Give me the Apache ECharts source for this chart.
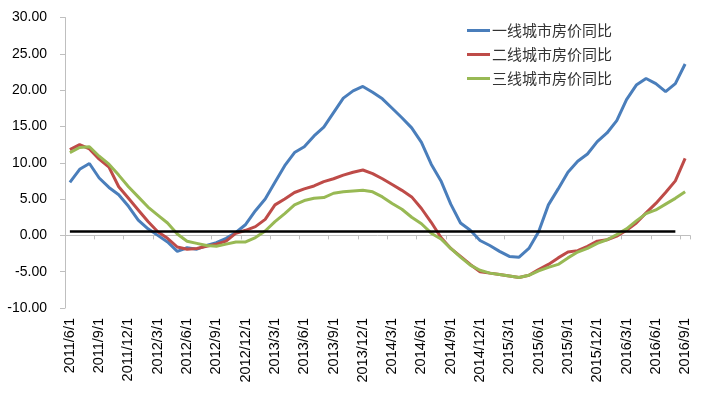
<!DOCTYPE html>
<html>
<head>
<meta charset="utf-8">
<script src="https://cdn.jsdelivr.net/npm/echarts@6/dist/echarts.min.js"></script>
<style>
html,body{margin:0;padding:0;background:#fff;}
#c{width:720px;height:397px;}
</style>
</head>
<body>
<div id="c"></div>
<script>
const months = [
 "2011/6/1","2011/7/1","2011/8/1","2011/9/1","2011/10/1","2011/11/1","2011/12/1",
 "2012/1/1","2012/2/1","2012/3/1","2012/4/1","2012/5/1","2012/6/1","2012/7/1","2012/8/1","2012/9/1","2012/10/1","2012/11/1","2012/12/1",
 "2013/1/1","2013/2/1","2013/3/1","2013/4/1","2013/5/1","2013/6/1","2013/7/1","2013/8/1","2013/9/1","2013/10/1","2013/11/1","2013/12/1",
 "2014/1/1","2014/2/1","2014/3/1","2014/4/1","2014/5/1","2014/6/1","2014/7/1","2014/8/1","2014/9/1","2014/10/1","2014/11/1","2014/12/1",
 "2015/1/1","2015/2/1","2015/3/1","2015/4/1","2015/5/1","2015/6/1","2015/7/1","2015/8/1","2015/9/1","2015/10/1","2015/11/1","2015/12/1",
 "2016/1/1","2016/2/1","2016/3/1","2016/4/1","2016/5/1","2016/6/1","2016/7/1","2016/8/1","2016/9/1"
];
const seriesNames = ["一线城市房价同比","二线城市房价同比","三线城市房价同比"];
const tier1 = [7.3,9.1,9.9,7.9,6.6,5.6,4.0,2.1,0.9,0.0,
 -0.9,-2.2,-1.7,-1.9,-1.4,-1.0,-0.4,0.4,1.5,3.4,
 5.0,7.3,9.6,11.4,12.2,13.7,14.9,16.9,18.9,19.9,
 20.5,19.7,18.8,17.5,16.2,14.8,12.8,9.8,7.5,4.3,
 1.7,0.7,-0.7,-1.4,-2.2,-2.9,-3.0,-1.8,0.5,4.2,
 6.4,8.7,10.2,11.2,12.9,14.1,15.8,18.7,20.7,21.6,
 20.9,19.8,20.9,23.6];
const tier2 = [11.8,12.5,11.9,10.5,9.4,6.7,5.1,3.5,1.9,0.5,
 -0.4,-1.6,-1.9,-1.8,-1.5,-1.2,-0.8,0.3,0.7,1.2,
 2.2,4.2,5.0,5.9,6.4,6.8,7.4,7.8,8.3,8.7,
 9.0,8.5,7.8,7.0,6.2,5.3,3.7,1.8,-0.3,-1.8,
 -2.9,-4.0,-5.0,-5.2,-5.4,-5.6,-5.8,-5.5,-4.7,-4.0,
 -3.1,-2.3,-2.1,-1.5,-0.8,-0.6,-0.1,0.7,1.7,3.1,
 4.4,5.9,7.5,10.6];
const tier3 = [11.4,12.1,12.2,10.9,9.8,8.3,6.7,5.3,3.9,2.8,
 1.7,0.2,-0.8,-1.1,-1.4,-1.5,-1.2,-0.9,-0.9,-0.3,
 0.6,1.9,3.0,4.2,4.8,5.1,5.2,5.8,6.0,6.1,
 6.2,6.0,5.3,4.4,3.6,2.5,1.6,0.3,-0.5,-1.8,
 -3.0,-4.1,-4.8,-5.2,-5.4,-5.6,-5.8,-5.5,-4.9,-4.4,
 -4.0,-3.1,-2.3,-1.8,-1.1,-0.6,0.1,0.9,2.0,3.0,
 3.5,4.3,5.1,6.0];
const refLevel = 0.55;
const refStart = "2011/6/1";
const refEnd = "2016/8/1";
const colors = ["#4A7EBB","#BE4B48","#98B954"];

const chart = echarts.init(document.getElementById('c'), null, {renderer:'canvas'});
const font = "'Liberation Sans', Arial, sans-serif";
function lineSeries(name, data, color){
  return {
    name: name, type:'line', data: data, symbol:'none', smooth:false,
    lineStyle:{color: color, width:3}, itemStyle:{color: color}, animation:false
  };
}
chart.setOption({
  animation:false,
  grid:{left:65, right:30, top:17.5, bottom:89, containLabel:false},
  legend:{
    data: seriesNames, orient:'vertical', left:462, top:18,
    itemWidth:23, itemHeight:14, itemGap:9,
    textStyle:{fontFamily:"'Noto Sans CJK SC', sans-serif", fontSize:15, color:'#333', padding:[0,0,0,-3]},
    icon:'path://M0,6 L23,6 L23,9 L0,9 Z'
  },
  xAxis:{
    type:'category', data: months, boundaryGap:true,
    axisLine:{lineStyle:{color:'#BFBFBF', width:1}},
    axisTick:{show:true, interval:2, length:4, lineStyle:{color:'#BFBFBF'}},
    axisLabel:{interval:2, rotate:90, margin:10, fontFamily:font, fontSize:14.5, color:'#000'}
  },
  yAxis:{
    type:'value', min:-10, max:30, interval:5,
    axisLine:{show:true, lineStyle:{color:'#BFBFBF', width:1}},
    axisTick:{show:true, length:5, lineStyle:{color:'#BFBFBF'}},
    splitLine:{show:false},
    axisLabel:{margin:18, fontFamily:font, fontSize:14, color:'#000',
      formatter: v => v.toFixed(2)}
  },
  series:[
    lineSeries(seriesNames[0], tier1, colors[0]),
    lineSeries(seriesNames[1], tier2, colors[1]),
    lineSeries(seriesNames[2], tier3, colors[2]),
    {
      name:'ref', type:'line', data:[], silent:true,
      markLine:{
        silent:true, symbol:'none', animation:false, label:{show:false},
        lineStyle:{color:'#000', width:2.5, type:'solid'},
        data:[[{coord:[refStart, refLevel]},{coord:[refEnd, refLevel]}]]
      }
    }
  ]
});
</script>
</body>
</html>
